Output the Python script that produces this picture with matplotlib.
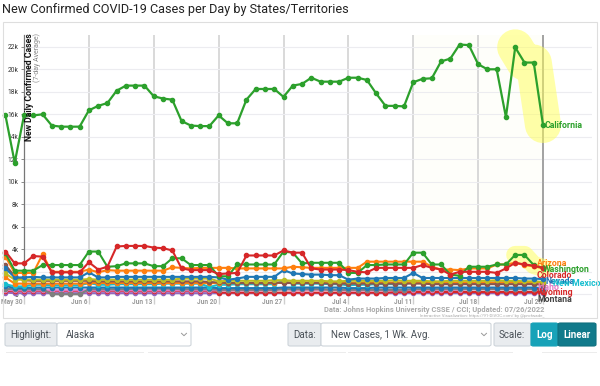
import matplotlib
matplotlib.use('Agg')
import matplotlib.pyplot as plt
from matplotlib.patches import FancyBboxPatch, Rectangle
from matplotlib.lines import Line2D
import matplotlib.transforms as mtrans

W, H = 600, 386
plt.rcParams['font.family'] = ['Roboto', 'DejaVu Sans']

# ---------------- data (thousands of cases, 7-day avg) ----------------
days = list(range(-2, 57))  # day offsets from May 30, 2022
week_ticks = [0, 7, 14, 21, 28, 35, 42, 49, 56]
week_labels = ['May 30', 'Jun 6', 'Jun 13', 'Jun 20', 'Jun 27', 'Jul 4', 'Jul 11', 'Jul 18', 'Jul 25']
y_ticks = [0, 2, 4, 6, 8, 10, 12, 14, 16, 18, 20, 22]
y_labels = ['0', '2k', '4k', '6k', '8k', '10k', '12k', '14k', '16k', '18k', '20k', '22k']

california = [15.9, 11.7, 15.9, 15.9, 16.0, 15.0, 14.9, 14.9, 14.9, 16.35,
              16.75, 17.0, 18.1, 18.55, 18.55, 18.55, 17.6, 17.4, 17.3, 15.4,
              15.0, 14.95, 14.95, 15.9, 15.2, 15.2, 17.3, 18.25, 18.25, 18.25,
              17.55, 18.55, 18.7, 19.25, 18.9, 18.9, 18.9, 19.25, 19.25, 19.05,
              17.85, 16.75, 16.75, 16.7, 18.85, 19.15, 19.2, 20.7, 20.95, 22.2,
              22.15, 20.45, 20.0, 20.0, 15.75, 21.95, 20.6, 20.6, 15.05]
colorado = [3.8, 2.75, 2.75, 3.4, 3.35, 1.95, 1.95, 1.95, 1.95, 2.85,
            2.2, 2.45, 4.25, 4.3, 4.3, 4.3, 4.15, 4.1, 3.9, 2.3,
            2.15, 2.15, 2.15, 1.8, 1.85, 1.9, 3.45, 3.45, 3.45, 3.45,
            3.9, 3.7, 3.7, 2.3, 2.2, 2.2, 2.2, 2.15, 2.0, 1.95,
            2.35, 2.35, 2.35, 2.35, 2.35, 2.6, 2.35, 2.2, 1.75, 2.0,
            2.0, 2.0, 2.0, 1.9, 2.3, 2.8, 2.65, 2.55, 2.35]
washington = [3.65, 2.1, 2.1, 2.1, 2.6, 2.6, 2.6, 2.6, 2.6, 3.8,
              3.8, 2.45, 2.5, 2.75, 2.75, 2.75, 2.5, 2.5, 3.2, 3.2,
              2.6, 2.6, 2.6, 1.6, 1.6, 2.65, 2.65, 2.65, 2.65, 2.65,
              3.8, 3.7, 2.75, 2.8, 2.8, 2.8, 2.8, 1.9, 1.9, 2.6,
              2.6, 2.65, 2.65, 2.65, 3.7, 3.7, 2.65, 2.65, 1.75, 1.65,
              2.45, 2.45, 2.45, 2.65, 2.65, 3.5, 3.5, 2.6, 2.35]
arizona = [3.35, 1.9, 1.9, 1.9, 3.55, 2.0, 2.0, 2.0, 2.0, 2.2,
           1.95, 2.15, 2.1, 2.1, 2.1, 2.1, 2.1, 2.1, 2.4, 2.35,
           2.3, 2.35, 2.35, 2.35, 2.35, 2.3, 2.3, 2.3, 2.3, 2.3,
           2.3, 2.45, 2.4, 2.35, 2.35, 2.35, 2.35, 2.35, 2.35, 2.9,
           2.9, 2.9, 2.9, 2.9, 2.9, 2.9, 2.45, 2.2, 2.2, 2.15,
           2.3, 2.3, 2.3, 2.65, 2.65, 2.8, 2.6, 2.5, 2.3]
nevada = [2.3, 1.5, 1.5, 1.55, 1.5, 1.5, 1.5, 1.5, 1.5, 1.95,
          1.5, 1.5, 1.55, 1.55, 1.55, 1.55, 1.55, 1.55, 1.55, 1.55,
          1.55, 1.55, 1.55, 1.5, 1.3, 1.4, 1.55, 1.55, 1.55, 1.55,
          2.15, 1.85, 1.8, 1.75, 1.75, 1.7, 1.7, 1.3, 1.4, 1.4,
          1.4, 1.45, 1.45, 1.45, 1.9, 1.45, 1.45, 1.45, 1.45, 1.45,
          1.45, 1.45, 1.45, 1.45, 1.45, 1.45, 1.4, 1.4, 1.35]
utah = [1.85, 1.3, 1.3, 1.3, 1.3, 1.3, 1.3, 1.3, 1.3, 1.35,
        1.3, 1.3, 1.3, 1.3, 1.3, 1.3, 1.3, 1.3, 1.3, 1.4,
        1.4, 1.4, 1.4, 1.15, 1.2, 1.2, 1.2, 1.2, 1.2, 1.25,
        1.25, 1.2, 1.2, 1.2, 1.2, 1.15, 1.15, 1.2, 1.2, 1.2,
        1.2, 1.2, 1.25, 1.2, 1.2, 1.2, 1.15, 1.15, 1.2, 1.2,
        1.2, 1.2, 1.2, 1.25, 1.2, 1.2, 1.15, 1.15, 1.1]
oregon = [2.6, 1.6, 1.25, 1.2, 1.2, 1.2, 1.2, 1.2, 1.2, 1.2,
          1.15, 1.15, 1.15, 1.15, 1.15, 1.15, 1.15, 1.15, 1.15, 1.15,
          1.15, 1.15, 1.1, 1.05, 1.0, 1.0, 1.0, 1.0, 1.0, 1.05,
          1.0, 1.0, 1.0, 1.0, 1.0, 0.95, 0.95, 0.95, 0.95, 0.95,
          0.95, 0.95, 0.95, 0.95, 0.95, 0.95, 0.9, 0.9, 0.9, 0.9,
          0.9, 0.9, 0.9, 0.9, 0.9, 0.9, 0.9, 0.9, 0.85]
hawaii = [1.5, 0.95, 0.95, 0.95, 0.95, 0.95, 0.95, 0.95, 0.95, 1.0,
          1.0, 1.0, 1.0, 1.0, 1.0, 1.0, 1.0, 1.0, 1.0, 1.0,
          1.0, 1.0, 1.0, 1.0, 1.0, 1.0, 1.0, 1.0, 1.0, 1.0,
          1.05, 1.05, 1.05, 1.05, 1.05, 1.0, 1.0, 1.0, 1.0, 1.05,
          1.05, 1.05, 1.05, 1.05, 1.05, 1.05, 1.05, 1.05, 1.05, 1.05,
          1.05, 1.05, 1.05, 1.05, 1.05, 1.05, 1.05, 1.0, 1.0]
new_mexico = [0.9, 0.7, 0.7, 0.85, 0.85, 0.8, 0.8, 0.8, 0.8, 1.0,
              0.85, 0.85, 0.9, 0.9, 0.9, 0.9, 0.9, 0.95, 0.95, 0.95,
              0.95, 0.95, 0.65, 0.85, 0.85, 0.9, 0.9, 0.9, 0.9, 0.9,
              1.2, 0.95, 0.95, 0.95, 0.95, 0.9, 0.9, 0.8, 0.85, 0.85,
              0.9, 0.9, 0.9, 0.9, 1.1, 1.0, 1.0, 1.0, 0.95, 0.95,
              1.0, 1.0, 1.0, 1.05, 1.05, 1.1, 1.1, 1.1, 1.1]
idaho = [0.75, 0.55, 0.55, 0.6, 0.6, 0.6, 0.6, 0.6, 0.6, 0.6,
         0.6, 0.6, 0.6, 0.6, 0.6, 0.6, 0.6, 0.6, 0.6, 0.6,
         0.6, 0.6, 0.6, 0.55, 0.55, 0.55, 0.55, 0.55, 0.55, 0.55,
         0.6, 0.6, 0.6, 0.6, 0.6, 0.6, 0.6, 0.55, 0.55, 0.55,
         0.6, 0.6, 0.6, 0.6, 0.6, 0.6, 0.6, 0.6, 0.6, 0.6,
         0.6, 0.6, 0.6, 0.6, 0.6, 0.6, 0.6, 0.6, 0.55]
montana = [0.5, 0.45, 0.45, 0.45, 0.45, 0.0, 0.0, 0.0, 0.0, 0.45,
           0.45, 0.45, 0.45, 0.45, 0.5, 0.5, 0.5, 0.5, 0.5, 0.45,
           0.45, 0.45, 0.45, 0.4, 0.4, 0.4, 0.4, 0.4, 0.4, 0.4,
           0.45, 0.45, 0.45, 0.45, 0.45, 0.4, 0.4, 0.4, 0.4, 0.4,
           0.4, 0.4, 0.4, 0.4, 0.45, 0.45, 0.45, 0.45, 0.45, 0.45,
           0.45, 0.45, 0.45, 0.45, 0.45, 0.45, 0.45, 0.45, 0.4]
alaska = [0.4, 0.35, 0.35, 0.35, 0.35, 0.35, 0.35, 0.35, 0.35, 0.35,
          0.35, 0.35, 0.35, 0.35, 0.35, 0.35, 0.35, 0.35, 0.35, 0.35,
          0.35, 0.35, 0.35, 0.35, 0.35, 0.35, 0.35, 0.35, 0.35, 0.4,
          0.45, 0.4, 0.4, 0.4, 0.4, 0.4, 0.35, 0.35, 0.35, 0.35,
          0.35, 0.35, 0.35, 0.35, 0.4, 0.4, 0.4, 0.4, 0.4, 0.4,
          0.45, 0.45, 0.45, 0.45, 0.45, 0.45, 0.45, 0.45, 0.45]
wyoming = [0.3, 0.3, 0.3, 0.3, 0.3, 0.3, 0.3, 0.3, 0.3, 0.3,
           0.3, 0.3, 0.3, 0.3, 0.3, 0.3, 0.3, 0.3, 0.3, 0.3,
           0.3, 0.3, 0.3, 0.15, 0.15, 0.15, 0.15, 0.15, 0.15, 0.15,
           0.15, 0.15, 0.15, 0.15, 0.15, 0.15, 0.15, 0.15, 0.15, 0.15,
           0.15, 0.15, 0.2, 0.2, 0.2, 0.2, 0.2, 0.2, 0.2, 0.2,
           0.2, 0.2, 0.2, 0.2, 0.2, 0.2, 0.2, 0.2, 0.2]
purple_st = [0.15, 0.1, 0.1, 0.1, 0.1, 0.1, 0.1, 0.1, 0.1, 0.1,
             0.1, 0.1, 0.1, 0.1, 0.1, 0.1, 0.1, 0.1, 0.1, 0.1,
             0.1, 0.1, 0.1, 0.1, 0.1, 0.1, 0.1, 0.1, 0.1, 0.1,
             0.1, 0.1, 0.1, 0.1, 0.1, 0.1, 0.1, 0.1, 0.1, 0.1,
             0.1, 0.1, 0.1, 0.1, 0.1, 0.1, 0.1, 0.1, 0.1, 0.1,
             0.1, 0.1, 0.1, 0.1, 0.1, 0.1, 0.1, 0.1, 0.1]

lower_series = [
    ('Hawaii', '#9467bd', purple_st),
    ('Wyoming', '#d62728', wyoming),
    ('Alaska', '#e377c2', alaska),
    ('Montana', '#7f7f7f', montana),
    ('Idaho', '#1f77b4', idaho),
    ('New Mexico', '#17becf', new_mexico),
    ('South', '#ff7f0e', hawaii),
    ('Oregon', '#8c564b', oregon),
    ('Utah', '#bcbd22', utah),
    ('Nevada', '#1f77b4', nevada),
    ('Arizona', '#ff7f0e', arizona),
    ('Washington', '#2ca02c', washington),
    ('Colorado', '#d62728', colorado),
]
for nm, _, v in lower_series:
    assert len(v) == len(days), (nm, len(v))
assert len(california) == len(days)

# ---------------- figure ----------------
fig = plt.figure(figsize=(W / 100, H / 100), dpi=100)

def fx(px):
    return px / W

def fy(py):
    return 1 - py / H

# chart frame
fig.patches.append(Rectangle((fx(3), fy(318)), fx(597) - fx(3), fy(22) - fy(318),
                             transform=fig.transFigure, fill=False,
                             edgecolor='#dedede', lw=0.8))

fig.text(fx(2), fy(10), 'New Confirmed COVID-19 Cases per Day by States/Territories',
         fontsize=9.1, color='#222222', va='center', ha='left')

ax_l, ax_r, ax_t, ax_b = 24, 592, 35, 296
ax = fig.add_axes([fx(ax_l), fy(ax_b), fx(ax_r) - fx(ax_l), fy(ax_t) - fy(ax_b)])
px_per_day = 9.268
ax.set_xlim(0, (ax_r - ax_l) / px_per_day)
ax.set_ylim((294.3 - ax_b) / 11.25, (294.3 - ax_t) / 11.25)
ax.set_facecolor('none')
ax.set_axisbelow(True)

# very light shading for the most recent weeks
ax.axvspan(week_ticks[-3], week_ticks[-1], color='#fefefa', zorder=0, lw=0)

ax.set_yticks(y_ticks)
ax.set_yticklabels(y_labels)
ax.set_xticks(week_ticks)
ax.set_xticklabels(week_labels)
ax.grid(axis='y', color='#ececf0', lw=0.8)
ax.grid(axis='x', color='#cfcfcf', lw=1.1)
ax.axvline(days[-1], color='#9a9a9a', lw=1.2, zorder=0.6)
for s in ['top', 'right', 'bottom']:
    ax.spines[s].set_visible(False)
ax.spines['left'].set_color('#777777')
ax.spines['left'].set_linewidth(0.9)
ax.tick_params(axis='y', length=2.5, width=0.6, color='#777777', labelsize=4.8,
               labelcolor='#333333', pad=1.5)
ax.tick_params(axis='x', length=6, width=1.0, color='#cfcfcf', labelsize=4.7,
               labelcolor='#9a9a9a', pad=1)
shift = mtrans.ScaledTranslation(-0.015, 0.075, fig.dpi_scale_trans)
for lab in ax.get_xticklabels():
    lab.set_horizontalalignment('right')
    lab.set_transform(lab.get_transform() + shift)
    lab.set_fontweight('bold')

# highlighter strokes (drawn under the lines)
ax.plot(days[-4:], california[-4:], color='#ffff55', alpha=0.5, lw=26,
        solid_capstyle='round', solid_joinstyle='round', zorder=1, clip_on=False)
ax.plot(days[-4:], washington[-4:], color='#ffff55', alpha=0.5, lw=13,
        solid_capstyle='round', solid_joinstyle='round', zorder=1, clip_on=False)

for nm, col, vals in lower_series:
    ax.plot(days, vals, color=col, lw=1.5, marker='o', ms=3.0, clip_on=False, zorder=3)
ax.plot(days, california, color='#2ca02c', lw=1.6, marker='o', ms=3.0,
        clip_on=False, zorder=4)

# axis titles
fig.text(fx(29), fy(33), 'New Daily Confirmed Cases', rotation=90, ha='center',
         va='top', fontsize=6.3, fontweight='bold', color='#111111')
fig.text(fx(37), fy(33), '(7-day Average)', rotation=90, ha='center', va='top',
         fontsize=5, color='#888888')

# end labels
end_labels = [
    ('California', '#2ca02c', california, 545, 125),
    ('Arizona', '#ff7f0e', arizona, 537, 264),
    ('Washington', '#2ca02c', washington, 543, 270),
    ('Colorado', '#d62728', colorado, 537, 276),
    ('Nevada', '#1f77b4', nevada, 545, 282),
    ('New Mexico', '#17becf', new_mexico, 553, 283),
    ('Idaho', '#e377c2', alaska, 537, 288),
    ('Wyoming', '#d62728', wyoming, 537, 292.5),
    ('Montana', '#444444', montana, 537, 300),
]
for nm, col, vals, lx, ly in end_labels:
    ax.annotate(nm, xy=(days[-1], vals[-1]), xytext=(lx, H - ly),
                textcoords='figure pixels', ha='left', va='center',
                fontsize=6.3, fontweight='bold', color=col, zorder=6,
                annotation_clip=False)

# source lines
fig.text(fx(544), fy(310), 'Data: Johns Hopkins University CSSE / CCI; Updated: 07/26/2022',
         ha='right', va='center', fontsize=5.4, fontweight='bold', color='#aaaaaa')
fig.text(fx(544), fy(316.5), 'Interactive Visualization: https://91-DIVOC.com/ by @profwade_',
         ha='right', va='center', fontsize=3.2, color='#aaaaaa')

# ---------------- controls ----------------
def box(x0, x1, y0, y1, face, edge, lw=0.8):
    p = FancyBboxPatch((fx(x0), fy(y1)), fx(x1) - fx(x0), fy(y0) - fy(y1),
                       boxstyle='round,pad=0,rounding_size=0.004',
                       transform=fig.transFigure, facecolor=face, edgecolor=edge, lw=lw)
    fig.patches.append(p)

def chevron(xc, yc):
    fig.lines.append(Line2D([fx(xc - 2.5), fx(xc), fx(xc + 2.5)],
                            [fy(yc - 1.2), fy(yc + 1.2), fy(yc - 1.2)],
                            transform=fig.transFigure, color='#999999', lw=0.7))

cy0, cy1 = 323, 346
cym = (cy0 + cy1) / 2
box(5, 57, cy0, cy1, '#e9ecef', '#ced4da')
box(57, 191, cy0, cy1, 'white', '#ced4da')
fig.text(fx(10), fy(cym), 'Highlight:', fontsize=7, color='#495057', va='center')
fig.text(fx(66), fy(cym), 'Alaska', fontsize=7, color='#495057', va='center')
chevron(184, cym)

box(288, 321, cy0, cy1, '#e9ecef', '#ced4da')
box(321, 491, cy0, cy1, 'white', '#ced4da')
fig.text(fx(293), fy(cym), 'Data:', fontsize=7, color='#495057', va='center')
fig.text(fx(331), fy(cym), 'New Cases, 1 Wk. Avg.', fontsize=7, color='#495057', va='center')
chevron(484, cym)

box(494, 531, cy0, cy1, '#e9ecef', '#ced4da')
fig.text(fx(499), fy(cym), 'Scale:', fontsize=7, color='#495057', va='center')
box(531, 558, cy0, cy1, '#17a2b8', '#17a2b8')
box(558, 596, cy0, cy1, '#117a8b', '#10707f')
fig.text(fx(544.5), fy(cym), 'Log', fontsize=7, color='white', va='center', ha='center',
         fontweight='bold')
fig.text(fx(577), fy(cym), 'Linear', fontsize=7, color='white', va='center', ha='center',
         fontweight='bold')

# faint tops of the next row of controls
for x0, x1 in [(6, 143), (148, 345), (348, 512), (542, 596)]:
    fig.lines.append(Line2D([fx(x0), fx(x1)], [fy(352), fy(352)],
                            transform=fig.transFigure, color='#ececec', lw=0.7))

fig.savefig('out.png', dpi=100)
